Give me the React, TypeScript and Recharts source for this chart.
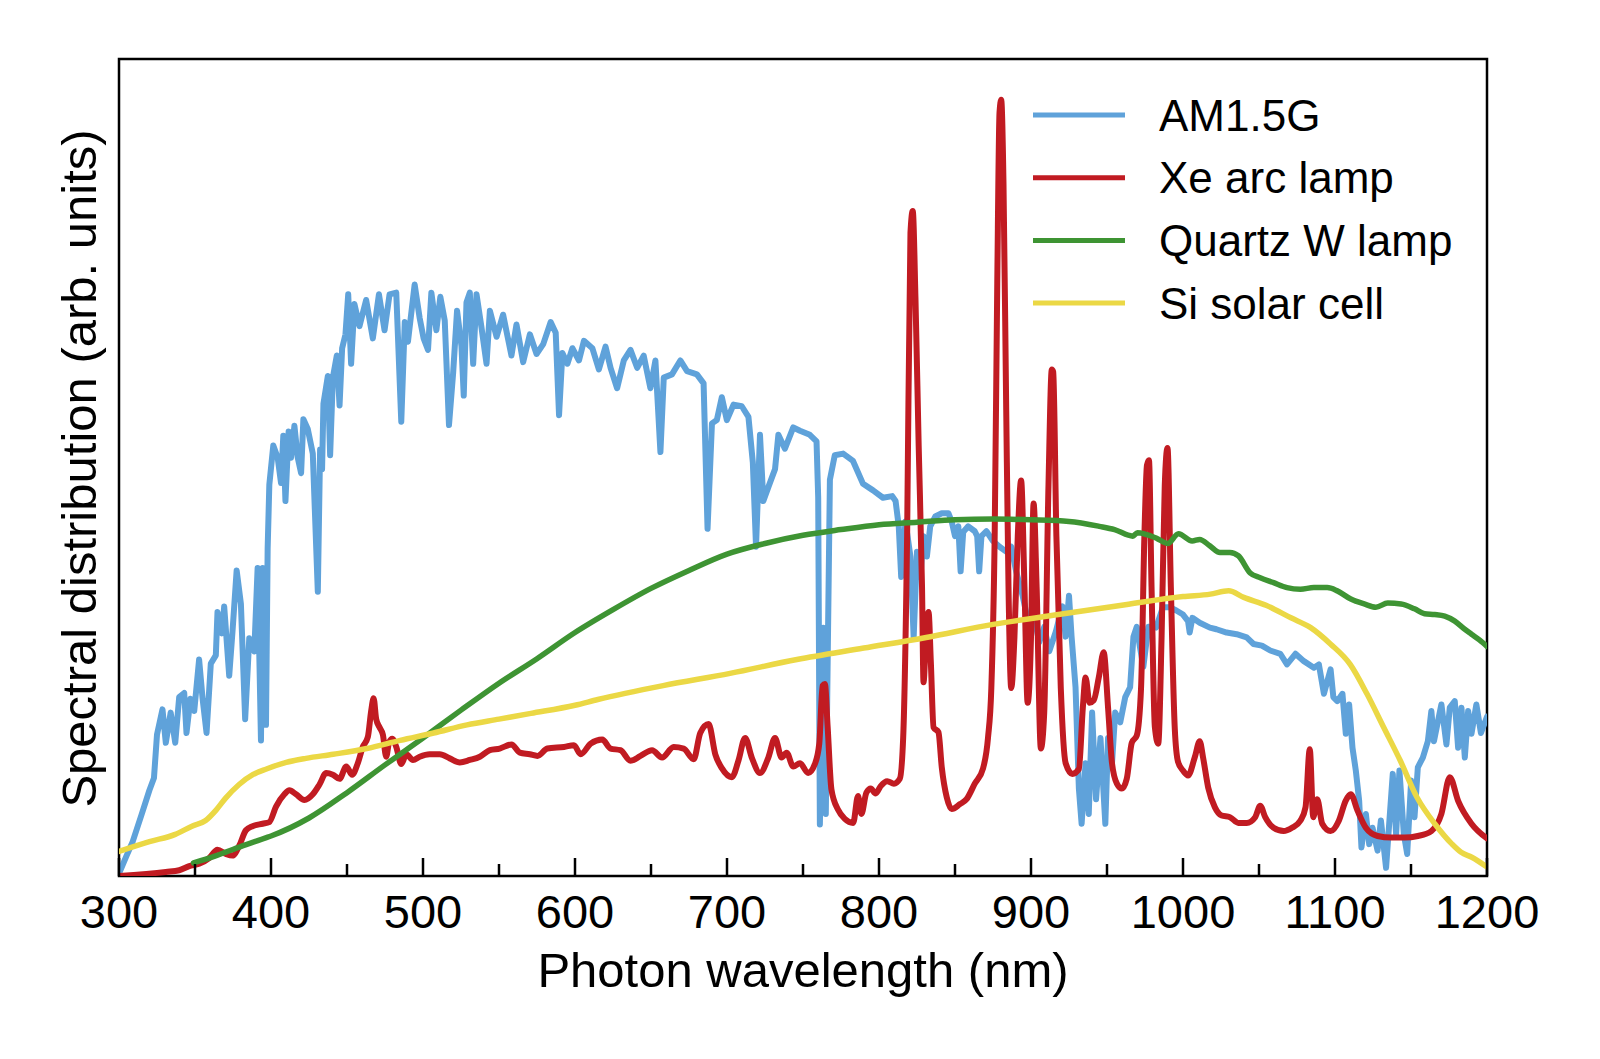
import React from 'react';
import { LineChart, Line, XAxis, YAxis, ReferenceArea, Legend } from 'recharts';

// ---------- data (wavelength nm, arbitrary units 0..100) ----------
const AM15G: [number, number][] = [
  [300,0.3],[305,2.5],[309,4.2],[315,7.6],[320,10.5],[323,12],[325,17.3],[328.6,20.4],[330.8,16.3],[334,20],[337,16.3],[339.6,21.9],[342.9,22.4],[344.4,17.5],[347,21.7],[349.5,20.2],[352.7,26.5],[355,21.7],[357.6,17.5],[360.4,26],[363.7,27],[364.8,32.3],[367.7,29.7],[369.2,33],[372.5,24.5],[374.7,30],[377.4,37.4],[380.2,33.3],[383,19.2],[385.7,29.1],[389,27.5],[391.2,37.7],[393.4,16.6],[394.5,37.7],[396.7,18.5],[397.8,40.1],[398.9,47.9],[401.5,52.7],[404.4,51.2],[406.6,48.1],[408.1,53.9],[409.5,45.9],[411.6,54.4],[413.2,51.2],[415.4,55.1],[417.6,51.2],[419.8,49.3],[421.3,55.9],[424.2,54.7],[427.5,51.7],[430.8,34.8],[432.3,52.2],[433.6,49.8],[434.5,57.8],[437.4,61.2],[438.9,51.5],[440.7,61],[443.3,63.7],[445.1,57.6],[446.8,64.6],[449,66.3],[450.8,71.2],[452.7,62.7],[454.9,70],[458.2,67.3],[462.6,70.5],[467,65.8],[471,71.2],[474.7,66.8],[478,71.2],[482.4,71.4],[485.7,55.6],[488,67.8],[490.1,65.4],[494.5,72.4],[497.8,68.3],[500.4,65.8],[503.3,64.4],[505.5,71.4],[508.8,66.8],[511.4,70.9],[514.3,68],[517.1,55.2],[519.8,61.5],[522.4,69.2],[525.3,64.9],[526.8,58.8],[528.6,70.2],[530.8,71.4],[533,62.7],[535.2,71.2],[538.5,67.1],[541.8,62.7],[544,69.2],[548.4,66],[552.7,68.7],[558.2,63.7],[561.5,67.5],[565.9,62.9],[570.3,66.3],[574.7,63.9],[579.1,65.1],[584,67.8],[587.3,66.5],[589.5,56.4],[591.7,64],[595,62.7],[598.3,64.6],[602.6,63.1],[605.9,65.5],[611.4,64.6],[615.7,62],[620.1,64.8],[623.4,62.2],[627.7,59.7],[632.1,63.1],[636.5,64.4],[640.9,62.2],[645.2,63.7],[649.6,59.7],[652.9,63.1],[656.2,51.9],[658.4,61],[663.8,61.4],[669.3,63.1],[673.7,61.8],[680.2,61.4],[684.6,60.3],[687.2,42.5],[690.1,55.4],[693.3,55.8],[696.6,58.6],[699.9,55.8],[704.3,57.7],[709.7,57.5],[714.1,56.2],[717,50.6],[719.1,40.3],[721.7,54],[723.9,45.9],[727.2,47.6],[731.6,49.8],[733.8,54],[738.1,52.3],[743.6,54.9],[748,54.5],[754.5,54],[758.9,53.2],[760,46.3],[761.1,6.3],[763.3,30.4],[765,7.6],[767.7,48.5],[770.9,51.5],[776.4,51.7],[782.9,50.8],[789.5,48],[796.1,47.2],[802.6,46.3],[808.7,46.5],[810.9,45.9],[813,42.8],[814.6,36.6],[815.9,39.1],[817.4,43.4],[820.7,39.1],[822.8,29.2],[825,39.7],[827.2,36.6],[829.3,41.6],[831.5,39.1],[833.7,42.8],[837,44],[841.3,44.4],[845.7,44.4],[847.8,43.4],[850,41.6],[852.2,42.8],[853.7,37.3],[855.4,42.1],[858.7,42.8],[863,42.2],[864.6,41.6],[865.9,37.3],[867.4,41.6],[870.7,42.2],[875,41],[879.3,40.3],[883.7,39.7],[887,40.3],[890.2,37.3],[894.6,34.2],[898.9,30.5],[902.2,31.7],[905.4,28.6],[908.7,30.5],[912,27.5],[916.3,29.9],[920.7,33],[922.8,29.3],[925,34.3],[926.7,29.3],[929.3,23.1],[931.5,10.7],[933.3,6.4],[935.9,13.8],[938,7.6],[940.2,20],[942.8,9.4],[945.7,16.9],[948.9,6.4],[950.7,16.9],[953.3,13.8],[955.4,20],[958.7,18.8],[962,21.9],[965.2,23.1],[967.4,29.3],[969.6,30.5],[971.7,28],[973.9,25.6],[977.2,30.5],[982.3,30.4],[986.8,32.9],[991.2,32.9],[995.6,32.5],[1000,32],[1003.3,31.2],[1004.4,29.8],[1006.2,31.6],[1011,31],[1017.7,30.4],[1022,30.2],[1028.7,29.8],[1035.3,29.6],[1041.9,29.2],[1046.4,28.4],[1051.9,28.2],[1057.4,27.6],[1064,27.2],[1068.4,25.9],[1074,27.2],[1079.5,26.3],[1086.1,25.5],[1089.4,25.9],[1092.7,22.3],[1097.1,25.3],[1098.9,21.9],[1101.5,21.4],[1104.9,22.3],[1107.1,17.4],[1109.3,21],[1111.5,15.7],[1113.7,12.9],[1115.9,9.2],[1117.4,3.5],[1120.3,7.6],[1122.5,3.9],[1124.7,5.9],[1128,3.1],[1130.2,6.8],[1133.6,1],[1135.8,6.8],[1138,12.5],[1140.2,5.1],[1142.4,12.9],[1145.3,5.1],[1147.5,2.7],[1150.1,11.7],[1152.3,7.2],[1154.5,13.3],[1157.8,14.5],[1161.1,16.5],[1163.4,20.2],[1165.1,16.5],[1167.8,19],[1170,21],[1173.3,16.1],[1175.5,20.6],[1178.8,21.4],[1181,15.7],[1183.2,20.6],[1185.4,14.5],[1187.6,20.2],[1189.8,17.4],[1193,21],[1196,17.5],[1200,19.5],
];

const XE_LAMP: [number, number][] = [
  [300,0],[330.8,0.5],[339.6,0.7],[346.2,1.2],[352.7,1.5],[359.3,2.2],[364.8,3.2],[370.3,2.7],[374.7,2.5],[379.1,3.7],[383.5,5.6],[387.9,6.1],[394.5,6.4],[398.9,6.6],[403.3,8.5],[408.8,10],[412.1,10.5],[416.5,10],[422,9.3],[427.5,10],[431.9,11.2],[436.3,12.6],[440.7,12.4],[445.1,11.9],[449.5,13.4],[453.4,12.4],[457.1,13.8],[460.4,15.8],[463.7,17],[465.9,20.2],[467.5,21.75],[469.2,19.2],[471.4,18.2],[473.6,17.3],[475.8,14.6],[477.6,16.3],[479.8,16.8],[482.4,15.8],[485.7,13.7],[489,14.9],[493.4,14.2],[497.8,14.6],[504.4,14.9],[511,14.9],[517.6,14.4],[524.2,13.9],[530.8,14.2],[537.4,14.6],[544,15.4],[550.5,15.6],[558.2,16.1],[563.7,15.1],[570.3,14.9],[575.3,14.7],[581.8,15.6],[592.8,15.8],[599.3,16],[603.7,14.9],[610.3,16.2],[617.9,16.7],[623.4,15.6],[629.9,15.4],[636.5,14.1],[643.1,14.7],[650.7,15.4],[657.3,14.5],[664.9,15.8],[671.5,15.6],[678.1,14.3],[682.4,17.5],[687.9,18.6],[692.3,14.9],[696.6,13.2],[703.2,12.1],[707.5,14.1],[711.9,16.9],[716.3,14.5],[721.7,12.6],[727.2,14.5],[731.6,16.9],[735.9,14.5],[739.2,15.1],[743.6,13.4],[748,13.8],[753.4,12.6],[757.8,13.7],[760.7,16.2],[762.9,23.3],[764.4,23.5],[766.2,18.3],[768.7,10.6],[773.1,8.1],[777.5,7],[783,6.5],[786.2,9.8],[788.4,7.6],[791.7,10.2],[794.6,10.7],[797.8,10.1],[801.1,11],[805.4,11.6],[809.8,11.3],[813.7,11.9],[815.9,16.9],[818.5,41.6],[820.7,78.7],[822.2,81.4],[824,70.6],[826.1,52.7],[828.3,35.4],[829.3,23.7],[830.9,29.3],[832.6,32.3],[834.1,26.2],[835.9,18.2],[839.1,17.6],[841.3,13.3],[844.6,9.6],[847.8,8.2],[853.3,8.8],[857.6,9.4],[863,11.3],[868.5,13.2],[871.7,16.9],[873.9,23],[876.1,41.6],[877.8,72.5],[879.3,93.5],[880.4,95],[881.9,84.8],[883.7,57],[885.2,35.4],[887,23],[889.1,29.2],[891.3,41.6],[893.5,48.4],[895.7,35.4],[897.8,21.2],[900,29.2],[901.7,45.6],[903.7,35.4],[906.5,15.6],[908.7,20],[911.5,47.8],[913.7,62],[914.6,61.7],[916.7,41.6],[919.6,23],[922.8,13.8],[927.2,12.5],[931.5,13.1],[934.1,20.6],[935.9,24.3],[938.5,21.2],[941.3,21.5],[944.6,24.3],[947.8,27.4],[950.7,20.6],[953.3,13.8],[956.5,11.3],[959.8,10.7],[963,11.9],[966.3,16.3],[969.6,17.2],[972.4,23],[974.6,41.6],[976.3,50.3],[977.6,50.9],[979.3,35.4],[981.5,18.2],[983.7,16.2],[985.9,29.2],[988,47.8],[989.8,52.4],[992,35.4],[994.6,18],[996.7,14],[1000,12.9],[1003.3,12.3],[1007.7,14.5],[1011,16.5],[1013.2,14.5],[1016.6,10.8],[1021,8.4],[1025.4,7.4],[1030.9,7.2],[1036.4,6.5],[1041.9,6.5],[1047.5,7.2],[1050.8,8.6],[1054.1,7.2],[1059.6,5.9],[1066.2,5.5],[1071.7,5.9],[1077.3,6.8],[1080.6,8.4],[1083.4,15.5],[1085.7,7.2],[1088.3,9.4],[1091.6,6.4],[1097.1,5.5],[1102.6,6.8],[1107,9.2],[1110.4,10],[1114.8,8],[1120.3,5.9],[1128,4.9],[1136.9,4.7],[1145.7,4.7],[1154.5,4.9],[1163.4,5.5],[1170,7.6],[1175.5,12.1],[1181,9.2],[1189.8,6.4],[1200,4.6],
];

const QUARTZ_W: [number, number][] = [
  [349,1.6],[364,2.5],[380,3.6],[397,4.7],[400,4.9],[425,7.1],[450,10.2],[475,13.6],[500,16.9],[525,20.3],[550,23.6],[575,26.6],[600,29.8],[625,32.6],[650,35.2],[675,37.4],[700,39.4],[725,40.7],[750,41.7],[775,42.4],[800,43],[825,43.3],[850,43.6],[875,43.7],[900,43.6],[925,43.4],[945,42.8],[955,42.4],[967,41.6],[970,42],[983,41.3],[990,40.7],[997,41.9],[1006,41],[1011,41.2],[1017.7,40.4],[1024.3,39.6],[1030.9,39.6],[1036.4,39.2],[1044.2,37.1],[1050.8,36.5],[1059.6,35.9],[1068.4,35.3],[1077.3,35.1],[1086.1,35.3],[1094.9,35.3],[1101.5,34.9],[1110.4,33.9],[1119.2,33.3],[1126.9,32.9],[1134.7,33.4],[1143.5,33.3],[1152.3,32.7],[1158.9,32.1],[1165.6,32],[1172.2,31.8],[1178.8,31.2],[1185.4,30.2],[1189.8,29.6],[1195,28.9],[1200,28.1],
];

const SI_CELL: [number, number][] = [
  [300,3.0],[320,4.2],[337,5.1],[348,6.1],[357,6.8],[364,8.1],[370,9.5],[379,11.2],[388,12.4],[397,13.1],[410,13.9],[423,14.4],[441,14.9],[463,15.6],[485,16.6],[507,17.5],[529,18.5],[550,19.2],[571,19.9],[600,20.9],[615,21.6],[658,23.3],[702,24.8],[746,26.5],[790,27.9],[831,29.2],[875,30.8],[918,32],[962,33.2],[1000,34.2],[1018,34.5],[1030,34.9],[1040,34.1],[1055,33.1],[1071,31.6],[1084,30.4],[1097,28.4],[1110,25.9],[1121,22.3],[1132,18.2],[1143,14.1],[1154,9.6],[1166,6.3],[1177,3.9],[1183,2.9],[1190,2.3],[1200,1.1],
];

const X_TICKS = [300, 350, 400, 450, 500, 550, 600, 650, 700, 750, 800, 850, 900, 950, 1000, 1050, 1100, 1150, 1200];
const SERIES_NAMES = ['AM1.5G', 'Xe arc lamp', 'Quartz W lamp', 'Si solar cell'];
const SERIES_COLORS = ['#5fa2da', '#c11b22', '#3e9433', '#ebd845'];

const toPoints = (arr: [number, number][]) => arr.map(([nm, v]) => ({ nm, v }));

const FONT = '"Liberation Sans", Arial, Helvetica, sans-serif';
const TICK_MARGIN = 18;

const XTick = (props: any) => {
  const { x, y, payload } = props;
  const v = payload.value;
  const major = v % 100 === 0;
  const axisY = y - TICK_MARGIN;
  return (
    <g>
      <line x1={x} x2={x} y1={axisY} y2={axisY - (major ? 18 : 12)} stroke="#000" strokeWidth={2.5} />
      {major && (
        <text x={x} y={axisY + 52} textAnchor="middle" fontSize={47} fill="#000" fontFamily={FONT}>
          {v}
        </text>
      )}
    </g>
  );
};

const XTitle = (props: any) => {
  const vb = props.viewBox || { x: 119, y: 876, width: 1368, height: 183 };
  return (
    <text x={vb.x + vb.width / 2} y={vb.y + 111} textAnchor="middle" fontSize={49} fill="#000" fontFamily={FONT}>
      Photon wavelength (nm)
    </text>
  );
};

const YTitle = (props: any) => {
  const vb = props.viewBox || { x: 0, y: 59, width: 119, height: 817 };
  const cx = vb.x + 79;
  const cy = vb.y + vb.height / 2 + 1;
  return (
    <text
      x={cx}
      y={cy}
      transform={`rotate(-90 ${cx} ${cy})`}
      textAnchor="middle"
      dominantBaseline="central"
      fontSize={49}
      fill="#000"
      fontFamily={FONT}
    >
      Spectral distribution (arb. units)
    </text>
  );
};

const LegendBox = () => (
  <svg width={470} height={260} style={{ display: 'block' }}>
    {SERIES_NAMES.map((name, i) => {
      const cy = 35 + i * 62.7;
      return (
        <g key={name}>
          <line x1={13} x2={105} y1={cy} y2={cy} stroke={SERIES_COLORS[i]} strokeWidth={5} />
          <text x={139} y={cy} dominantBaseline="central" fontSize={44} fill="#000" fontFamily={FONT}>
            {name}
          </text>
        </g>
      );
    })}
  </svg>
);

const SERIES_DATA = [AM15G, XE_LAMP, QUARTZ_W, SI_CELL];
const SERIES_TYPES: ('linear' | 'monotone')[] = ['linear', 'monotone', 'monotone', 'monotone'];
const SERIES_WIDTHS = [6, 6, 5.5, 5.5];

export default function App() {
  return (
    <div style={{ position: 'absolute', left: 0, top: 0, width: 1600, height: 1059, background: '#fff' }}>
      <LineChart
        width={1600}
        height={1059}
        margin={{ top: 59, right: 113, bottom: 0, left: 0 }}
        style={{ fontFamily: FONT }}
      >
        <XAxis
          dataKey="nm"
          type="number"
          domain={[300, 1200]}
          ticks={X_TICKS}
          interval={0}
          allowDataOverflow
          height={183}
          tickSize={0}
          tickMargin={TICK_MARGIN}
          tickLine={false}
          axisLine={false}
          tick={<XTick />}
          label={{ content: (p: any) => <XTitle {...p} /> }}
        />
        <YAxis
          type="number"
          domain={[0, 100]}
          allowDataOverflow
          width={119}
          tick={false}
          tickLine={false}
          axisLine={false}
          ticks={[]}
          label={{ content: (p: any) => <YTitle {...p} /> }}
        />
        {SERIES_DATA.map((d, i) => (
          <Line
            key={SERIES_NAMES[i]}
            name={SERIES_NAMES[i]}
            data={toPoints(d)}
            dataKey="v"
            type={SERIES_TYPES[i]}
            stroke={SERIES_COLORS[i]}
            strokeWidth={SERIES_WIDTHS[i]}
            strokeLinejoin="round"
            strokeLinecap="round"
            dot={false}
            activeDot={false}
            isAnimationActive={false}
          />
        ))}
        <ReferenceArea x1={300} x2={1200} y1={0} y2={100} fill="none" fillOpacity={0} stroke="#000" strokeWidth={2.5} />
        <Legend
          layout="vertical"
          align="center"
          verticalAlign="middle"
          wrapperStyle={{ position: 'absolute', left: 1020, top: 80, width: 470, height: 260 }}
          content={() => <LegendBox />}
        />
      </LineChart>
    </div>
  );
}
